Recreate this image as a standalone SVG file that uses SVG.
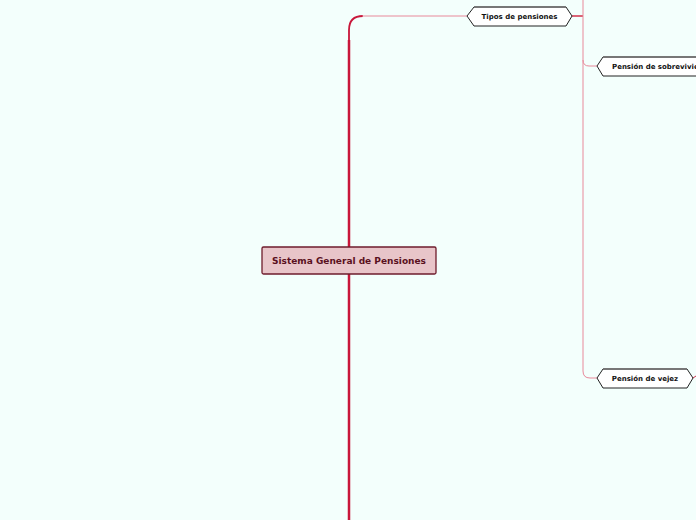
<svg xmlns="http://www.w3.org/2000/svg" width="696" height="520" viewBox="0 0 696 520">
<style>
.hex{fill:#ffffff;stroke:#222222;stroke-width:1}
.hextop{fill:none;stroke:#777777;stroke-width:2}
.lbl{font-family:"DejaVu Sans",Verdana,sans-serif;font-size:7px;font-weight:bold;fill:#111111}
.thin{fill:none;stroke:#e8899a;stroke-width:1}
.trunk{fill:none;stroke:#c8173a;stroke-width:2.5}
</style>
<rect width="696" height="520" fill="#f3fffc"/>
<g id="connectors">
<path class="trunk" d="M349 520 L349 40"/>
<path d="M349 42 L349 30 Q349 16 363 16" fill="none" stroke="#c8173a" stroke-width="1.8"/>
<path class="thin" d="M362 16 L467 16" stroke-width="1.2"/>
<path d="M572 16 L583 16" stroke="#d0304a" stroke-width="1.5" fill="none"/>
<path class="thin" d="M583 0 L583 371 Q583 378 590 378 L597 378"/>
<path class="thin" d="M583 60 Q583 66 589 66 L597 66"/>
<path d="M693 378 L696 376" stroke="#d0304a" stroke-width="1" fill="none"/>
</g>
<g id="central">
<rect x="262" y="247" width="174" height="27" rx="1.5" fill="#e8c5c9" stroke="#6e1c2c" stroke-width="1.3"/>
<text x="349" y="264" text-anchor="middle" font-family="DejaVu Sans,Verdana,sans-serif" font-size="9px" font-weight="bold" fill="#5a1020">Sistema General de Pensiones</text>
</g>
<g id="tipos">
<path class="hex" d="M467 16 L474 7 L566 7 L572 16 L566 26 L474 26 Z"/>
<path class="hextop" d="M474 7 L566 7"/>
<text class="lbl" x="519.5" y="19" text-anchor="middle">Tipos de pensiones</text>
</g>
<g id="sobrevivencia">
<path class="hex" d="M597 66 L603 57 L700 57 L700 76 L603 76 Z"/>
<path class="hextop" d="M603 57 L700 57"/>
<text class="lbl" x="612" y="69">Pensión de sobrevivie</text>
</g>
<g id="vejez">
<path class="hex" d="M597 378 L603 369 L687 369 L693 378 L687 388 L603 388 Z"/>
<path class="hextop" d="M603 369 L687 369"/>
<text class="lbl" x="645" y="381" text-anchor="middle">Pensión de vejez</text>
</g>
</svg>
